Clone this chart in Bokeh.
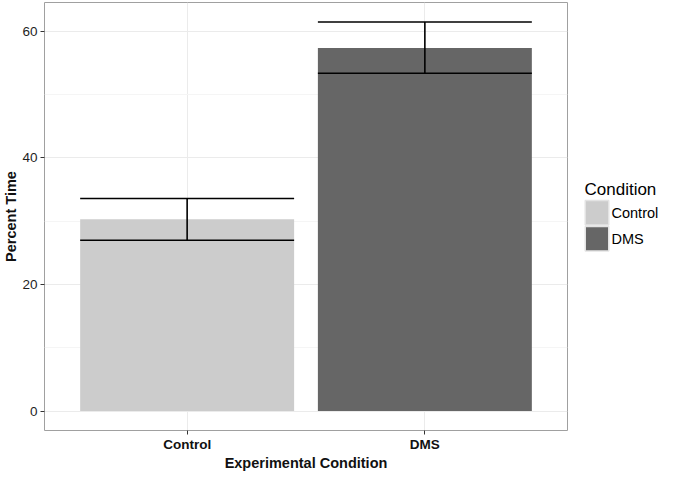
from bokeh.plotting import figure
from bokeh.models import FixedTicker, Range1d, ColumnDataSource
from bokeh.core.properties import value
from bokeh.layouts import row
from bokeh.embed import file_html
from bokeh.resources import INLINE

# ---- data ----
conditions = ["Control", "DMS"]
mean_pct = [30.3, 57.4]
err_low = [27.0, 53.4]
err_high = [33.6, 61.5]
bar_colors = ["#cccccc", "#666666"]
y_ticks = [0, 20, 40, 60]
y_minor = [10, 30, 50]
legend_title = "Condition"

xs = [i + 1 for i in range(len(conditions))]
bar_w = 0.9
half = bar_w / 2

FONT = "Liberation Sans"
TOTAL_H = 473
MAIN_W = 569
LEG_W = 90
FRAME_H = 427.5  # height of the aligned plot frames

x_start, x_end = 0.4, len(conditions) + 0.6
y_pad = 0.05 * max(err_high)
y_start, y_end = -y_pad, max(err_high) + y_pad

p = figure(width=MAIN_W, height=TOTAL_H,
           x_range=Range1d(x_start, x_end), y_range=Range1d(y_start, y_end),
           output_backend="svg", toolbar_location=None,
           min_border_left=0, min_border_right=2,
           min_border_top=2, min_border_bottom=0)

p.background_fill_color = "white"
p.border_fill_color = "white"
p.outline_line_color = "#a0a0a0"
p.outline_line_width = 1

src = ColumnDataSource(dict(x=xs, top=mean_pct, color=bar_colors,
                            lo=err_low, hi=err_high,
                            xl=[x - half for x in xs], xr=[x + half for x in xs]))

p.vbar(x="x", top="top", bottom=0, width=bar_w, fill_color="color",
       line_color=None, source=src)

# error bars
p.segment(x0="x", y0="lo", x1="x", y1="hi", line_color="black", line_width=1.6, source=src)
p.segment(x0="xl", y0="hi", x1="xr", y1="hi", line_color="black", line_width=1.6, source=src)
p.segment(x0="xl", y0="lo", x1="xr", y1="lo", line_color="black", line_width=1.6, source=src)

# axes
p.xaxis.ticker = FixedTicker(ticks=xs)
p.xaxis.major_label_overrides = {x: c for x, c in zip(xs, conditions)}
p.yaxis.ticker = FixedTicker(ticks=y_ticks, minor_ticks=y_minor)

for ax in (p.xaxis[0], p.yaxis[0]):
    ax.axis_line_color = None
    ax.major_tick_out = 4
    ax.major_tick_in = 0
    ax.major_tick_line_color = "#333333"
    ax.minor_tick_line_color = None
    ax.major_label_text_font = FONT
    ax.axis_label_text_font = FONT
    ax.axis_label_text_font_size = "14.5px"
    ax.axis_label_text_font_style = "bold"
    ax.axis_label_text_color = "#111111"

p.yaxis.major_label_text_font_size = "13.5px"
p.yaxis.major_label_text_color = "#1f1f1f"
p.yaxis.major_label_standoff = 3
p.yaxis.axis_label = "Percent Time"
p.yaxis.axis_label_standoff = 0

p.xaxis.major_label_text_font_size = "13.5px"
p.xaxis.major_label_text_font_style = "bold"
p.xaxis.major_label_text_color = "#111111"
p.xaxis.major_label_standoff = 2
p.xaxis.axis_label = "Experimental Condition"
p.xaxis.axis_label_standoff = 0

# grid
p.xgrid.grid_line_color = "#ebebeb"
p.ygrid.grid_line_color = "#ebebeb"
p.ygrid.minor_grid_line_color = "#f5f5f5"

# ---- legend panel (pixel-like coordinates inside the aligned frame, y from top) ----
leg = figure(width=LEG_W, height=TOTAL_H,
             x_range=Range1d(0, LEG_W), y_range=Range1d(FRAME_H, 0),
             x_axis_location=None, y_axis_location=None,
             output_backend="svg", toolbar_location=None,
             min_border_left=0, min_border_right=0,
             min_border_top=0, min_border_bottom=0)
leg.grid.visible = False
leg.outline_line_color = None
leg.background_fill_color = "white"
leg.border_fill_color = "white"

key_x0, key_w, key_h = 15, 25, 26
title_mid = 186.5
keys_top = 197
key_cy = [keys_top + key_h * (i + 0.5) for i in range(len(conditions))]

leg.rect(x=[key_x0 + key_w / 2] * len(conditions), y=key_cy,
         width=key_w - 1.5, height=key_h - 1.5, fill_color=bar_colors,
         line_color="#e3e3e3", line_width=1.5)
leg.text(x=[key_x0 + key_w + 2] * len(conditions), y=key_cy, text=conditions,
         text_font=value(FONT), text_font_size="14.5px", text_color="#000000",
         text_align="left", text_baseline="middle")
leg.text(x=[key_x0], y=[title_mid], text=[legend_title],
         text_font=value(FONT), text_font_size="17px", text_color="#000000",
         text_align="left", text_baseline="middle")

layout = row(p, leg, spacing=0)

open("out.html", "w").write(file_html(layout, INLINE))
